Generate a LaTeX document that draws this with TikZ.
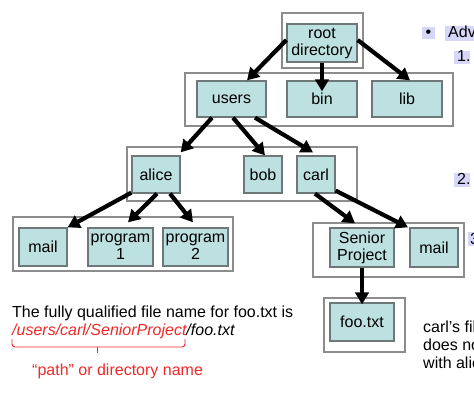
\documentclass[tikz,border=0pt]{standalone}
\usepackage{fontspec}
\setmainfont{Liberation Sans}
\usetikzlibrary{arrows.meta}
\definecolor{boxfill}{HTML}{BDE0E0}
\definecolor{boxline}{HTML}{6E7878}
\definecolor{grpline}{HTML}{8C8C8C}
\definecolor{pathred}{HTML}{F02828}
\definecolor{hilite}{HTML}{D6D6F8}
\begin{document}
\begin{tikzpicture}[x=1pt,y=-1pt,
  group/.style={draw=grpline,line width=1.3pt,fill=white},
  fbox/.style={draw=boxline,line width=1.3pt,fill=boxfill,inner sep=0pt,align=center,font=\fontsize{16}{17}\selectfont},
  conn/.style={line width=4.2pt,-{Triangle[length=12pt,width=13.5pt]}},
  txt/.style={anchor=base west,inner sep=0pt,font=\fontsize{16}{18}\selectfont},
  hl/.style={fill=hilite,draw=none}]
\useasboundingbox (0,0) rectangle (474,401);
% group boxes
\draw[group] (282,13) rectangle (363,68);
\draw[group] (185,73) rectangle (453,126);
\draw[group] (127,147) rectangle (357,201);
\draw[group] (13,217) rectangle (233,271);
\draw[group] (313,223) rectangle (464,277);
\draw[group] (324,298) rectangle (405,352);
% file / directory boxes
\node[fbox,minimum width=70pt,minimum height=38pt] (root) at (322,43) {root\\directory};
\node[fbox,minimum width=69pt,minimum height=36pt] (users) at (231.5,99) {users};
\node[fbox,minimum width=70pt,minimum height=36pt] (bin) at (322,99) {bin};
\node[fbox,minimum width=70pt,minimum height=36pt] (lib) at (407,99) {lib};
\node[fbox,minimum width=48pt,minimum height=37pt] (alice) at (156,174.5) {alice};
\node[fbox,minimum width=38pt,minimum height=37pt] (bob) at (263,174.5) {bob};
\node[fbox,minimum width=38pt,minimum height=37pt] (carl) at (316,174.5) {carl};
\node[fbox,minimum width=48pt,minimum height=38pt] (mailA) at (43,247) {mail};
\node[fbox,minimum width=65pt,minimum height=38pt] (prog1) at (120.5,247) {program\\1};
\node[fbox,minimum width=65pt,minimum height=38pt] (prog2) at (195.5,247) {program\\2};
\node[fbox,minimum width=64pt,minimum height=39pt] (senior) at (362,247.5) {Senior\\Project};
\node[fbox,minimum width=48pt,minimum height=39pt] (mailC) at (434,247.5) {mail};
\node[fbox,minimum width=64pt,minimum height=38pt] (foo) at (362,322) {foo.txt};
% connectors
\draw[conn] ([yshift=3pt]root.west) -- ([xshift=15.5pt]users.north);
\draw[conn] (root.south) -- ([yshift=-11pt]bin.north);
\draw[conn] ([yshift=3pt]root.east) -- ([xshift=3pt]lib.north);
\draw[conn] ([xshift=-19.5pt]users.south) -- ([yshift=3pt]alice.north east);
\draw[conn] ([xshift=1.5pt]users.south) -- ([xshift=2pt]bob.north);
\draw[conn] ([xshift=23.5pt]users.south) -- ([xshift=-3pt,yshift=3pt]carl.north);
\draw[conn] ([yshift=1pt]alice.south west) -- (mailA.north east);
\draw[conn] ([xshift=1pt]alice.south) -- ([xshift=7.5pt,yshift=5pt]prog1.north);
\draw[conn] ([xshift=14pt]alice.south) -- ([xshift=-2.5pt,yshift=5pt]prog2.north);
\draw[conn] ([xshift=-1pt]carl.south) -- ([xshift=-7pt,yshift=4pt]senior.north);
\draw[conn] ([yshift=3pt]carl.south east) -- ([xshift=-26pt]mailC.north);
\draw[conn] (senior.south) -- ([yshift=-2pt]foo.north);
% bottom left text
\node[txt] (q1) at (12,317) {The fully qualified file name for foo.txt is};
\node[txt] (q2) at (12,335) {\itshape\textcolor{pathred}{/users/carl/SeniorProject}/foo.txt};
\draw[pathred,line width=0.9pt,rounded corners=3pt] (12,339) -- (12,347) -- (185,347) -- (185,339);
\draw[pathred,line width=0.9pt] (97,347) -- (97,353);
\node[txt,text=pathred] (pathlbl) at (32,375) {“path” or directory name};
% bottom right text (cut off by the page edge, as in the reference)
\node[txt] (c1) at (423,332) {carl's file};
\node[txt] (c2) at (423,350) {does not};
\node[txt] (c3) at (423,368) {with alice};
% top right highlighted list
\fill[hl] (422,27) rectangle (435,39);
\node[txt] (bul) at (425.5,38) {•};
\fill[hl] (445,26) rectangle (474,41);
\node[txt] (adv) at (448,38) {Advantages};
\fill[hl] (454,51) rectangle (470,64);
\node[txt] (n1) at (457,62) {1.};
\fill[hl] (454,173) rectangle (470,187);
\node[txt] (n2) at (457,185) {2.};
\fill[hl] (468,232) rectangle (474,246);
\node[txt] (n3) at (470,244) {3.};
\end{tikzpicture}
\end{document}
